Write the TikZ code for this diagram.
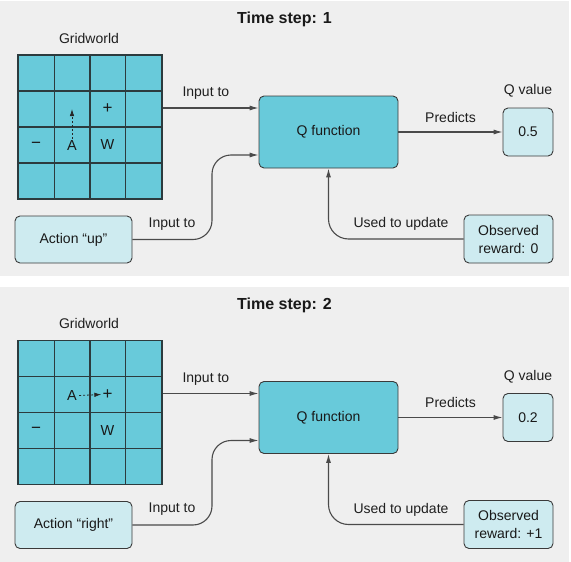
\documentclass[tikz,border=0pt]{standalone}
\usepackage{fontspec}
\setmainfont{Liberation Sans}
\usetikzlibrary{arrows.meta}
\definecolor{panelbg}{HTML}{EFEFEF}
\definecolor{cyanfill}{HTML}{68CADA}
\definecolor{lightfill}{HTML}{CEEBF0}
\definecolor{edgegray}{HTML}{3A3A3A}
\definecolor{gridline}{HTML}{2C3B3E}
\definecolor{wiregray}{HTML}{4A4A4A}
\tikzset{
  panel/.style={fill=panelbg, draw=none},
  title/.style={font=\fontsize{16}{19}\selectfont\bfseries, text=black!90},
  lbl/.style={font=\fontsize{14}{17}\selectfont, text=black!88, inner sep=0pt},
  gridbox/.style={fill=cyanfill, draw=gridline, line width=1.6pt, minimum width=144pt, minimum height=144pt, inner sep=0pt},
  cell/.style={font=\fontsize{14.5}{17}\selectfont, text=black!90, inner sep=0pt},
  sym/.style={font=\fontsize{17}{20}\selectfont, text=black!90, inner sep=0pt},
  qbox/.style={fill=cyanfill, draw=edgegray, line width=0.9pt, rounded corners=5pt, minimum width=139pt, minimum height=72pt, inner sep=0pt, font=\fontsize{14}{17}\selectfont, text=black!90},
  lbox/.style={fill=lightfill, draw=edgegray, line width=0.9pt, rounded corners=5pt, inner sep=0pt, font=\fontsize{14}{17}\selectfont, text=black!90, align=center},
  wire/.style={draw=wiregray, line width=1.1pt, -{Latex[length=9pt,width=5pt]}},
  agentmove/.style={draw=black!85, line width=0.8pt, dash pattern=on 2pt off 2pt, -{Latex[length=7pt,width=4.5pt]}},
}
\begin{document}
\begin{tikzpicture}[x=1pt,y=-1pt]
\useasboundingbox (0,0) rectangle (571,562);
\fill[white] (0,0) rectangle (571,562);
% ---------------- panel 1 ----------------
\fill[panel] (0,1) rectangle (569,276);
\node[title] (t1) at (284.5,19.5) {Time step: 1};
\node[lbl] (gl1) at (89,38) {Gridworld};
\node[gridbox] (g1) at (90,127) {};
\foreach \x in {54.5,90,125.5} \draw[gridline, line width=1.6pt] (\x,55) -- (\x,199);
\foreach \y in {91,127,163} \draw[gridline, line width=1.6pt] (18,\y) -- (162,\y);
\node[sym] (p1) at (107.5,109) {+};
\node[sym] (m1) at (36,145) {−};
\node[cell] (a1) at (72,146) {A};
\node[cell] (w1) at (107.5,145) {W};
\coordinate (a1t) at (72,109);
\draw[agentmove] (a1.north) ++(0,-2) -- (a1t);
\node[lbox, minimum width=117pt, minimum height=47pt] (act1) at (73.5,239.5) {Action “up”};
\node[qbox] (q1) at (328.5,132) {Q function};
\node[lbox, minimum width=50pt, minimum height=48pt] (qv1) at (528,132) {0.5};
\node[lbl] (qvl1) at (528,91) {Q value};
\node[lbox, minimum width=89pt, minimum height=48pt, font=\fontsize{14}{18}\selectfont] (ob1) at (508.5,239) {Observed\\reward: 0};
\draw[wire] ([yshift=19pt]g1.east) -- ([yshift=24pt]q1.west) node[lbl, pos=0.45, above=8pt] {Input to};
\draw[wire, rounded corners=19pt] (act1.east) -| (212,155) -- ([yshift=-23pt]q1.west);
\node[lbl] (in1) at (172,224) {Input to};
\draw[wire] (q1.east) -- (qv1.west) node[lbl, midway, above=9pt] {Predicts};
\draw[wire, rounded corners=20pt] (ob1.west) -| (q1.south);
\node[lbl] (up1) at (401,224) {Used to update};
% ---------------- panel 2 ----------------
\begin{scope}[yshift=-285.5pt]
\fill[panel] (0,1) rectangle (569,277);
\node[title] (t2) at (284.5,19.5) {Time step: 2};
\node[lbl] (gl2) at (89,38) {Gridworld};
\node[gridbox] (g2) at (90,127) {};
\foreach \x in {54.5,90,125.5} \draw[gridline, line width=1.6pt] (\x,55) -- (\x,199);
\foreach \y in {91,127,163} \draw[gridline, line width=1.6pt] (18,\y) -- (162,\y);
\node[sym] (p2) at (107.5,109) {+};
\node[sym] (m2) at (36,145) {−};
\node[cell] (a2) at (72,110) {A};
\node[cell] (w2) at (107.5,145) {W};
\draw[agentmove] ([xshift=2pt]a2.east) -- ([xshift=-1pt]p2.west);
\node[lbox, minimum width=117pt, minimum height=47pt] (act2) at (73.5,239.5) {Action “right”};
\node[qbox] (q2) at (328.5,132) {Q function};
\node[lbox, minimum width=50pt, minimum height=48pt] (qv2) at (528,132) {0.2};
\node[lbl] (qvl2) at (528,91) {Q value};
\node[lbox, minimum width=89pt, minimum height=48pt, font=\fontsize{14}{18}\selectfont] (ob2) at (508.5,239) {Observed\\reward: +1};
\draw[wire] ([yshift=19pt]g2.east) -- ([yshift=24pt]q2.west) node[lbl, pos=0.45, above=8pt] {Input to};
\draw[wire, rounded corners=19pt] (act2.east) -| (212,155) -- ([yshift=-23pt]q2.west);
\node[lbl] (in2) at (172,224) {Input to};
\draw[wire] (q2.east) -- (qv2.west) node[lbl, midway, above=9pt] {Predicts};
\draw[wire, rounded corners=20pt] (ob2.west) -| (q2.south);
\node[lbl] (up2) at (401,224) {Used to update};
\end{scope}
\end{tikzpicture}
\end{document}
